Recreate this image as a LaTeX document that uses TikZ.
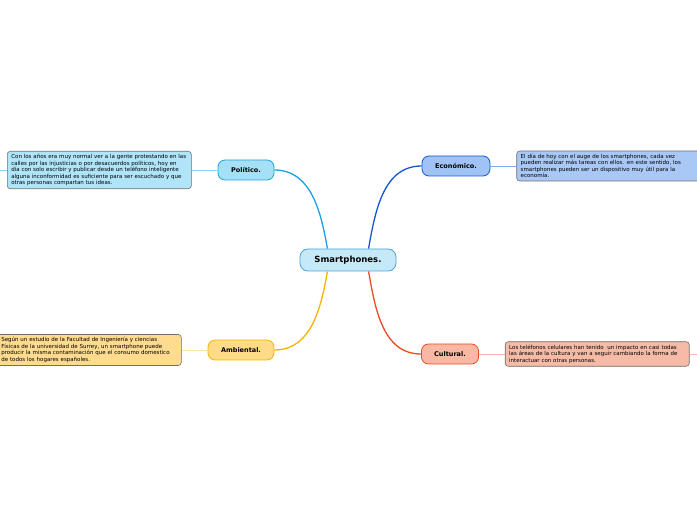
\documentclass[tikz,border=0pt]{standalone}
\usepackage{fontspec}
\setmainfont{DejaVu Sans}
\usepackage{tikz}
\usetikzlibrary{positioning}
\definecolor{centreF}{HTML}{C6E9F8}
\definecolor{centreD}{HTML}{4AA3DF}
\definecolor{polC}{HTML}{1BA1E2}
\definecolor{polF}{HTML}{A5E0F7}
\definecolor{polB}{HTML}{B0E4F9}
\definecolor{polL}{HTML}{8FD3F2}
\definecolor{ecoC}{HTML}{1358D0}
\definecolor{ecoF}{HTML}{A0C2F5}
\definecolor{ecoB}{HTML}{A9C8F6}
\definecolor{ecoL}{HTML}{7FAEF0}
\definecolor{ambC}{HTML}{F6B400}
\definecolor{ambF}{HTML}{FFDA87}
\definecolor{ambB}{HTML}{FEDB8E}
\definecolor{ambL}{HTML}{FDE2A8}
\definecolor{culC}{HTML}{E84C22}
\definecolor{culF}{HTML}{F8B8A4}
\definecolor{culB}{HTML}{F6BBA7}
\definecolor{culL}{HTML}{F6B8A8}
\definecolor{grisB}{RGB}{110,110,110}
\tikzset{
  centre/.style={rectangle, rounded corners=8pt, draw=centreD, fill=centreF, line width=0.8pt,
                 font=\fontsize{8.5}{10}\selectfont\bfseries, minimum width=96pt, minimum height=22pt},
  topic/.style={rectangle, rounded corners=7pt, draw=#1C, fill=#1F, line width=0.8pt,
                font=\fontsize{6.5}{8}\selectfont\bfseries, minimum height=20pt, inner xsep=8pt},
  note/.style={rectangle, rounded corners=3pt, draw=grisB, fill=#1B, line width=0.6pt,
               align=left, font=\fontsize{5.5}{6.5}\selectfont, text width=176pt, inner xsep=4pt, inner ysep=3pt},
  branch/.style={line width=1.3pt, draw=#1C},
  leaf/.style={line width=0.8pt, draw=#1L},
}
\begin{document}
\begin{tikzpicture}[x=1pt, y=1pt, node distance=26pt]
    \clip (0,0) rectangle (697,520);
    \node[centre] (c) at (348,260) {Smartphones.};
    \node[topic=pol, minimum width=56pt] (pol) at (246,350) {Político.};
    \node[topic=eco, minimum width=68pt] (eco) at (456,354) {Económico.};
    \node[topic=amb, minimum width=66pt] (amb) at (241,170) {Ambiental.};
    \node[topic=cul, minimum width=57pt] (cul) at (450,166) {Cultural.};
    \node[note=pol, left=of pol] (npol) {Con los años era muy normal ver a la gente protestando en las\\calles por las injusticias o por desacuerdos políticos, hoy en\\día con solo escribir y publicar desde un teléfono inteligente\\alguna inconformidad es suficiente para ser escuchado y que\\otras personas compartan tus ideas.};
    \node[note=eco, right=of eco] (neco) {El día de hoy con el auge de los smartphones, cada vez\\pueden realizar más tareas con ellos. en este sentido, los\\smartphones pueden ser un dispositivo muy útil para la\\economía.};
    \node[note=amb, left=of amb] (namb) {Según un estudio de la Facultad de Ingeniería y ciencias\\Físicas de la universidad de Surrey, un smartphone puede\\producir la misma contaminación que el consumo domestico\\de todos los hogares españoles.};
    \node[note=cul, right=of cul] (ncul) {Los teléfonos celulares han tenido\ \ un impacto en casi todas\\las áreas de la cultura y van a seguir cambiando la forma de\\interactuar con otras personas.};
    \coordinate (pend) at (0,350);
    \coordinate (cend) at (697,166);
    \draw[branch=pol] (c.151) to[out=100,in=0] (pol.east);
    \draw[branch=eco] (c.29) to[out=80,in=180] (eco.west);
    \draw[branch=amb] (c.209) to[out=260,in=0] (amb.east);
    \draw[branch=cul] (c.331) to[out=280,in=180] (cul.west);
    \draw[leaf=pol] (npol) -- (pol); \draw[leaf=pol] (npol) -- (pend);
    \draw[leaf=eco] (eco) -- (neco);
    \draw[leaf=amb] (namb) -- (amb);
    \draw[leaf=cul] (cul) -- (ncul); \draw[leaf=cul] (ncul) -- (cend);
  \end{tikzpicture}
\end{document}
